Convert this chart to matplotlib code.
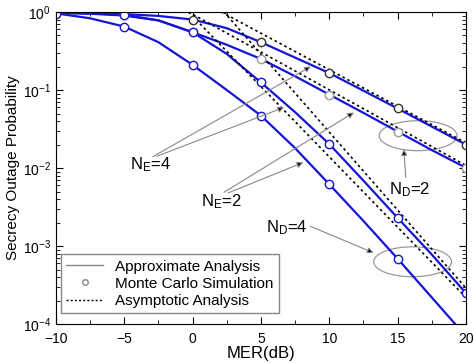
import matplotlib
matplotlib.use('Agg')
import matplotlib.pyplot as plt
from matplotlib.lines import Line2D
from matplotlib.patches import Ellipse
from matplotlib.ticker import LogLocator, MultipleLocator, NullFormatter

plt.rcParams['font.family'] = ['Liberation Sans', 'DejaVu Sans']
plt.rcParams['mathtext.fontset'] = 'custom'
plt.rcParams['mathtext.rm'] = 'Liberation Sans'
plt.rcParams['mathtext.it'] = 'Liberation Sans'
plt.rcParams['mathtext.default'] = 'regular'

# analysis curves (read at 2.5 dB steps)
mer = [-10, -7.5, -5, -2.5, 0, 2.5, 5, 7.5, 10, 12.5, 15, 17.5, 20]
ana_d2_e4 = [0.98, 0.97, 0.94, 0.89, 0.80, 0.62, 0.41, 0.26, 0.165, 0.098, 0.058, 0.034, 0.020]
ana_d2_e2 = [0.97, 0.95, 0.90, 0.78, 0.55, 0.38, 0.25, 0.15, 0.0875, 0.051, 0.0294, 0.017, 0.0101]
ana_d4_e4 = [0.98, 0.96, 0.92, 0.78, 0.55, 0.29, 0.125, 0.052, 0.0203, 0.0069, 0.0023, 0.00078, 0.00025]
ana_d4_e2 = [0.96, 0.83, 0.65, 0.41, 0.21, 0.10, 0.047, 0.018, 0.0062, 0.0021, 0.00069, 0.00022, 0.00007]

# monte carlo points
mer_sim = [-10, -5, 0, 5, 10, 15, 20]
sim_d2_e4 = [0.97, 0.93, 0.80, 0.41, 0.165, 0.058, 0.020]
sim_d2_e2 = [0.96, 0.91, 0.55, 0.25, 0.0875, 0.0294, 0.0101]
sim_d4_e4 = [0.97, 0.92, 0.55, 0.125, 0.0203, 0.0023, 0.00025]
sim_d4_e2 = [0.95, 0.65, 0.21, 0.047, 0.0062, 0.00069, 0.00007]

# asymptotic lines (straight on log scale, endpoints)
asy_d2_e4 = ([2.1, 20], [1.0, 0.021])
asy_d2_e2 = ([-0.3, 20], [1.0, 0.0108])
asy_d4_e4 = ([2.3, 20], [1.0, 0.00029])
asy_d4_e2 = ([-0.3, 20], [1.0, 0.00022])

blue = '#1515d5'

fig = plt.figure(figsize=(4.74, 3.63), dpi=100)
ax = fig.add_axes([0.118, 0.107, 0.865, 0.860])

for y in [ana_d2_e4, ana_d2_e2, ana_d4_e4, ana_d4_e2]:
    ax.plot(mer, y, color=blue, lw=1.6)
for xy in [asy_d2_e4, asy_d2_e2, asy_d4_e4, asy_d4_e2]:
    ax.plot(xy[0], xy[1], color='black', lw=1.2, dashes=(1.5, 1.8))
sim_cols = ['#333333', '#999999', blue, blue]
for y, c in zip([sim_d2_e4, sim_d2_e2, sim_d4_e4, sim_d4_e2], sim_cols):
    ax.plot(mer_sim, y, 'o', ms=6, mfc='white', mec=c, mew=1.0)

ax.set_yscale('log')
ax.set_xlim(-10, 20)
ax.set_ylim(1e-4, 1)
ax.xaxis.set_major_locator(MultipleLocator(5))
ax.xaxis.set_minor_locator(MultipleLocator(2.5))
ax.yaxis.set_major_locator(LogLocator(base=10, numticks=10))
ax.yaxis.set_minor_locator(LogLocator(base=10, subs=range(2, 10), numticks=10))
ax.yaxis.set_minor_formatter(NullFormatter())
ax.tick_params(which='both', direction='in', top=True, right=True, labelsize=10)
ax.tick_params(which='major', length=5)
ax.tick_params(which='minor', length=3)
ax.tick_params(axis='x', pad=6)
ax.set_xlabel('MER(dB)', fontsize=12, labelpad=0)
ax.set_ylabel('Secrecy Outage Probability', fontsize=11, labelpad=2)

arrow = dict(arrowstyle='-|>', edgecolor='#888888', facecolor='black', lw=0.8,
             mutation_scale=9, shrinkA=0, shrinkB=0)
ax.text(-3.1, 0.011, 'N$_E$=4', fontsize=12, ha='center', va='center')
ax.annotate('', xy=(8.65, 0.2), xytext=(-2.9, 0.014), arrowprops=arrow)
ax.annotate('', xy=(6.7, 0.06), xytext=(-2.6, 0.0142), arrowprops=arrow)
ax.text(2.1, 0.0037, 'N$_E$=2', fontsize=12, ha='center', va='center')
ax.annotate('', xy=(11.8, 0.0515), xytext=(2.3, 0.0049), arrowprops=arrow)
ax.annotate('', xy=(8.1, 0.0118), xytext=(2.6, 0.0048), arrowprops=arrow)
ax.text(15.9, 0.0053, 'N$_D$=2', fontsize=12, ha='center', va='center')
ax.annotate('', xy=(15.45, 0.0175), xytext=(15.6, 0.0076), arrowprops=arrow)
ax.text(6.9, 0.0017, 'N$_D$=4', fontsize=12, ha='center', va='center')
ax.annotate('', xy=(13.25, 0.00082), xytext=(8.6, 0.0018), arrowprops=arrow)

fig.canvas.draw()
for cx, cy in [(16.5, 0.026), (16.1, 0.00063)]:
    px = ax.transData.transform((cx, cy))
    ca = ax.transAxes.inverted().transform(px)
    ax.add_patch(Ellipse(ca, 0.19, 0.096, transform=ax.transAxes, fill=False,
                         edgecolor='#999999', lw=0.9))

handles = [Line2D([], [], color='#888888', lw=1.0),
           Line2D([], [], ls='none', marker='o', ms=4, mfc='white', mec='#888888'),
           Line2D([], [], color='black', lw=1.0, dashes=(1.5, 1.5))]
leg = ax.legend(handles, ['Approximate Analysis', 'Monte Carlo Simulation', 'Asymptotic Analysis'],
                loc='lower left', fontsize=11, fancybox=False, framealpha=1,
                handlelength=2.4, borderpad=0.35, labelspacing=0.2, borderaxespad=0.0,
                bbox_to_anchor=(0.012, 0.035))
leg.get_frame().set_edgecolor('#888888')
leg.get_frame().set_linewidth(1.0)

fig.savefig('out.png', dpi=100)
